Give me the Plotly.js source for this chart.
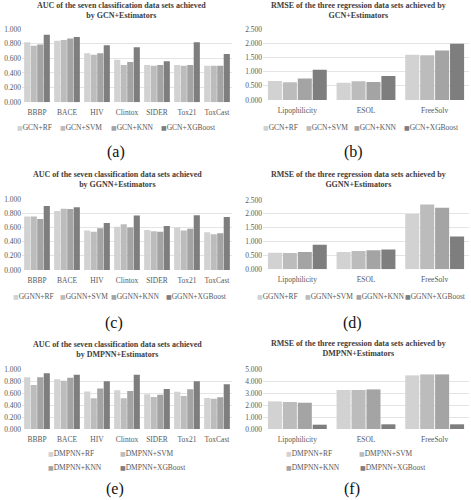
<!DOCTYPE html>
<html>
<head>
<meta charset="utf-8">
<script src="https://cdn.plot.ly/plotly-3.0.1.min.js"></script>
<style>html,body{margin:0;padding:0;background:#fff;}#chart{width:471px;height:500px;}</style>
</head>
<body>
<div id="chart"></div>
<script>
// ---- data ----
const classSets = ["BBBP", "BACE", "HIV", "Clintox", "SIDER", "Tox21", "ToxCast"];
const regSets = ["Lipophilicity", "ESOL", "FreeSolv"];
const estimators = ["RF", "SVM", "KNN", "XGBoost"];

// (a) GCN AUC
const gcnRF  = [0.82, 0.84, 0.67, 0.58, 0.51, 0.51, 0.50];
const gcnSVM = [0.77, 0.85, 0.65, 0.51, 0.50, 0.50, 0.50];
const gcnKNN = [0.79, 0.87, 0.67, 0.55, 0.51, 0.51, 0.50];
const gcnXGB = [0.92, 0.89, 0.78, 0.75, 0.56, 0.82, 0.66];
// (b) GCN RMSE
const gcnRmseRF  = [0.67, 0.61, 1.60];
const gcnRmseSVM = [0.63, 0.66, 1.58];
const gcnRmseKNN = [0.76, 0.64, 1.75];
const gcnRmseXGB = [1.07, 0.85, 1.99];
// (c) GGNN AUC
const ggnnRF  = [0.755, 0.835, 0.56, 0.613, 0.566, 0.60, 0.533];
const ggnnSVM = [0.755, 0.868, 0.54, 0.646, 0.547, 0.56, 0.505];
const ggnnKNN = [0.72, 0.863, 0.59, 0.60, 0.542, 0.585, 0.519];
const ggnnXGB = [0.905, 0.887, 0.665, 0.77, 0.623, 0.774, 0.75];
// (d) GGNN RMSE
const ggnnRmseRF  = [0.60, 0.625, 1.995];
const ggnnRmseSVM = [0.59, 0.66, 2.34];
const ggnnRmseKNN = [0.625, 0.685, 2.22];
const ggnnRmseXGB = [0.89, 0.71, 1.18];
// (e) DMPNN AUC
const dmpnnRF  = [0.866, 0.832, 0.63, 0.648, 0.58, 0.626, 0.52];
const dmpnnSVM = [0.737, 0.81, 0.514, 0.514, 0.536, 0.553, 0.508];
const dmpnnKNN = [0.866, 0.86, 0.68, 0.637, 0.575, 0.665, 0.53];
const dmpnnXGB = [0.933, 0.91, 0.80, 0.91, 0.67, 0.80, 0.75];
// (f) DMPNN RMSE
const dmpnnRmseRF  = [2.30, 3.25, 4.47];
const dmpnnRmseSVM = [2.25, 3.25, 4.55];
const dmpnnRmseKNN = [2.19, 3.30, 4.55];
const dmpnnRmseXGB = [0.36, 0.39, 0.39];

const titles = [
  "AUC of the seven classification data sets achieved<br>by GCN+Estimators",
  "RMSE of the three regression data sets achieved by<br>GCN+Estimators",
  "AUC of the seven classification data sets achieved<br>by GGNN+Estimators",
  "RMSE of the three regression data sets achieved by<br>GGNN+Estimators",
  "AUC of the seven classification data sets achieved<br>by DMPNN+Estimators",
  "RMSE of the three regression data sets achieved by<br>DMPNN+Estimators"
];
const panelLabels = ["(a)", "(b)", "(c)", "(d)", "(e)", "(f)"];
const models = ["GCN", "GCN", "GGNN", "GGNN", "DMPNN", "DMPNN"];

// ---- styling ----
const colors = ["#d2d2d2", "#bcbcbc", "#a4a4a4", "#7e7e7e"];
const W = 471, H = 500;
const serif = "Liberation Serif, Times New Roman, serif";

// leg: [x, y] of each legend entry (swatch left edge)
const panels = [
  {cats: classSets, series: [gcnRF, gcnSVM, gcnKNN, gcnXGB], yr: [0, 1], dt: 0.2,
   box: [22, 232, 29, 102.3], title: [121, 10], lab: [116, 152],
   leg: [[16, 127], [59, 127], [110, 127], [160, 127]]},
  {cats: regSets, series: [gcnRmseRF, gcnRmseSVM, gcnRmseKNN, gcnRmseXGB], yr: [0, 2.5], dt: 0.5,
   box: [263, 469, 29.3, 100], title: [358, 10], lab: [353, 152],
   leg: [[262, 127], [305, 127], [353, 127], [403, 127]]},
  {cats: classSets, series: [ggnnRF, ggnnSVM, ggnnKNN, ggnnXGB], yr: [0, 1], dt: 0.2,
   box: [22, 232, 199.3, 270], title: [117, 179], lab: [114, 323],
   leg: [[12, 296], [59, 296], [110, 296], [165, 296]]},
  {cats: regSets, series: [ggnnRmseRF, ggnnRmseSVM, ggnnRmseKNN, ggnnRmseXGB], yr: [0, 2.5], dt: 0.5,
   box: [263, 469, 200, 269.3], title: [358, 179], lab: [352, 323],
   leg: [[256, 296], [304, 296], [355, 296], [404, 296]]},
  {cats: classSets, series: [dmpnnRF, dmpnnSVM, dmpnnKNN, dmpnnXGB], yr: [0, 1], dt: 0.2,
   box: [22, 232, 369.3, 429], title: [117, 349], lab: [115, 489],
   leg: [[47, 453], [119, 453], [47, 467], [119, 467]]},
  {cats: regSets, series: [dmpnnRmseRF, dmpnnRmseSVM, dmpnnRmseKNN, dmpnnRmseXGB], yr: [0, 5], dt: 1,
   box: [263, 469, 369, 429], title: [358, 348], lab: [352, 489],
   leg: [[285, 453], [358, 453], [285, 467], [359, 467]]}
];

const traces = [];
const layout = {
  width: W, height: H,
  margin: {l: 0, r: 0, t: 0, b: 0},
  paper_bgcolor: "#ffffff", plot_bgcolor: "#ffffff",
  barmode: "group", bargap: 0.13, bargroupgap: 0.06,
  showlegend: false,
  font: {family: serif, color: "#595959", size: 7.5},
  annotations: []
};

panels.forEach((p, i) => {
  const n = i === 0 ? "" : String(i + 1);
  const [x0, x1, yTop, yBot] = p.box;
  layout["xaxis" + n] = {
    domain: [x0 / W, x1 / W], anchor: "y" + n,
    type: "category", showgrid: false, zeroline: false, showline: false,
    ticks: "outside", ticklen: 3, tickcolor: "rgba(0,0,0,0)",
    tickfont: {family: serif, size: 7.5, color: "#595959"},
    fixedrange: true
  };
  layout["yaxis" + n] = {
    domain: [1 - yBot / H, 1 - yTop / H], anchor: "x" + n,
    range: p.yr, dtick: p.dt, tick0: 0, tickformat: ".3f",
    showgrid: true, gridcolor: "#d9d9d9", gridwidth: 0.7,
    zeroline: false, showline: false, ticks: "",
    tickfont: {family: serif, size: 7.5, color: "#595959"},
    fixedrange: true
  };
  p.series.forEach((vals, k) => {
    traces.push({
      type: "bar", x: p.cats, y: vals,
      name: models[i] + "+" + estimators[k],
      xaxis: "x" + n, yaxis: "y" + n,
      marker: {color: colors[k], line: {width: 0}},
      hoverinfo: "x+y+name"
    });
    const [lx, ly] = p.leg[k];
    layout.annotations.push({
      xref: "paper", yref: "paper", x: lx / W, y: 1 - ly / H,
      xanchor: "left", yanchor: "middle", showarrow: false, borderpad: 0,
      text: '<span style="color:' + colors[k] + ';font-family:DejaVu Sans;font-size:6px">■</span>' +
            models[i] + "+" + estimators[k],
      font: {family: serif, size: 7.5, color: "#595959"}
    });
  });
  layout.annotations.push({
    xref: "paper", yref: "paper", x: p.title[0] / W, y: 1 - p.title[1] / H,
    xanchor: "center", yanchor: "middle", showarrow: false, align: "center",
    text: "<b>" + titles[i] + "</b>",
    font: {family: serif, size: 8, color: "#404040"}
  });
  layout.annotations.push({
    xref: "paper", yref: "paper", x: p.lab[0] / W, y: 1 - p.lab[1] / H,
    xanchor: "center", yanchor: "middle", showarrow: false, borderpad: 0,
    text: panelLabels[i],
    font: {family: serif, size: 16, color: "#111111"}
  });
});

Plotly.newPlot("chart", traces, layout, {displayModeBar: false, staticPlot: true});
</script>
</body>
</html>
